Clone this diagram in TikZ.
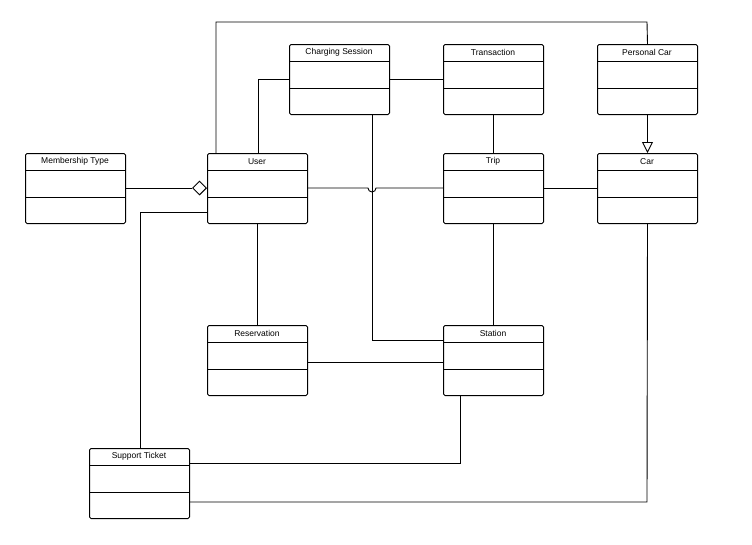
\documentclass[tikz,border=0pt]{standalone}
\usepackage{fontspec}
\setmainfont{Liberation Sans}
\usetikzlibrary{arrows.meta,shapes.geometric}
\begin{document}
\begin{tikzpicture}[x=1pt,y=-1pt,line width=0.9pt,
  conn/.style={draw=black,line width=0.9pt},
  lbl/.style={font=\fontsize{8.5}{10}\selectfont,anchor=center,inner sep=0pt}]
\useasboundingbox[fill=white] (0,0) rectangle (752,544);
\newcommand{\umlclass}[4]{%
  \node[draw,rounded corners=1.5pt,minimum width=100pt,minimum height=70pt,anchor=north west,inner sep=0pt,line width=1pt] (#1) at (#2,#3) {};
  \draw[line width=1pt] (#2,#3+17) -- (#2+100,#3+17);
  \draw[line width=1pt] (#2,#3+44) -- (#2+100,#3+44);
  \node[lbl] (#1-t) at (#2+50,#3+8.5) {#4};}
\umlclass{mem}{25}{153}{Membership Type}
\umlclass{user}{207}{153}{User}
\umlclass{cs}{289}{44}{Charging Session}
\umlclass{tr}{443}{44}{Transaction}
\umlclass{pc}{597}{44}{Personal Car}
\umlclass{trip}{443}{153}{Trip}
\umlclass{car}{597}{153}{Car}
\umlclass{res}{207}{325}{Reservation}
\umlclass{st}{443}{325}{Station}
\umlclass{sup}{89}{448}{Support Ticket}
% membership aggregation
\node[diamond,draw,fill=white,inner sep=0pt,minimum width=14pt,minimum height=14pt,line width=0.9pt,anchor=east] (dia) at (user.west|-0,188) {};
\draw[conn] (mem.east|-0,188) -- (dia.west);
% user to personal car
\draw[conn] (216,153) -- (216,22) -- (647,22) -- (pc.north);
% user to charging session
\draw[conn] (258,153) -- (258,79) -- (cs.west|-0,79);
\draw[conn] (cs.east|-0,79) -- (tr.west|-0,79);
\draw[conn] (tr.south) -- (trip.north);
\draw[conn,-{Triangle[open,length=11pt,width=11pt]}] (pc.south) -- (car.north);
% user to trip with jump
\draw[conn] (user.east|-0,188) -- (368,188) arc[start angle=180,end angle=0,radius=4] -- (trip.west|-0,188);
\draw[conn] (372,114) -- (372,340) -- (st.west|-0,340);
\draw[conn] (trip.east|-0,188) -- (car.west|-0,188);
\draw[conn] (trip.south) -- (st.north);
\draw[conn] (user.south) -- (res.north);
\draw[conn] (res.east|-0,362) -- (st.west|-0,362);
\draw[conn] (user.west|-0,212) -- (140,212) -- (140,448);
\draw[conn] (460,395) -- (460,463) -- (sup.east|-0,463);
\draw[conn] (car.south) -- (647,502) -- (sup.east|-0,502);
\end{tikzpicture}
\end{document}
